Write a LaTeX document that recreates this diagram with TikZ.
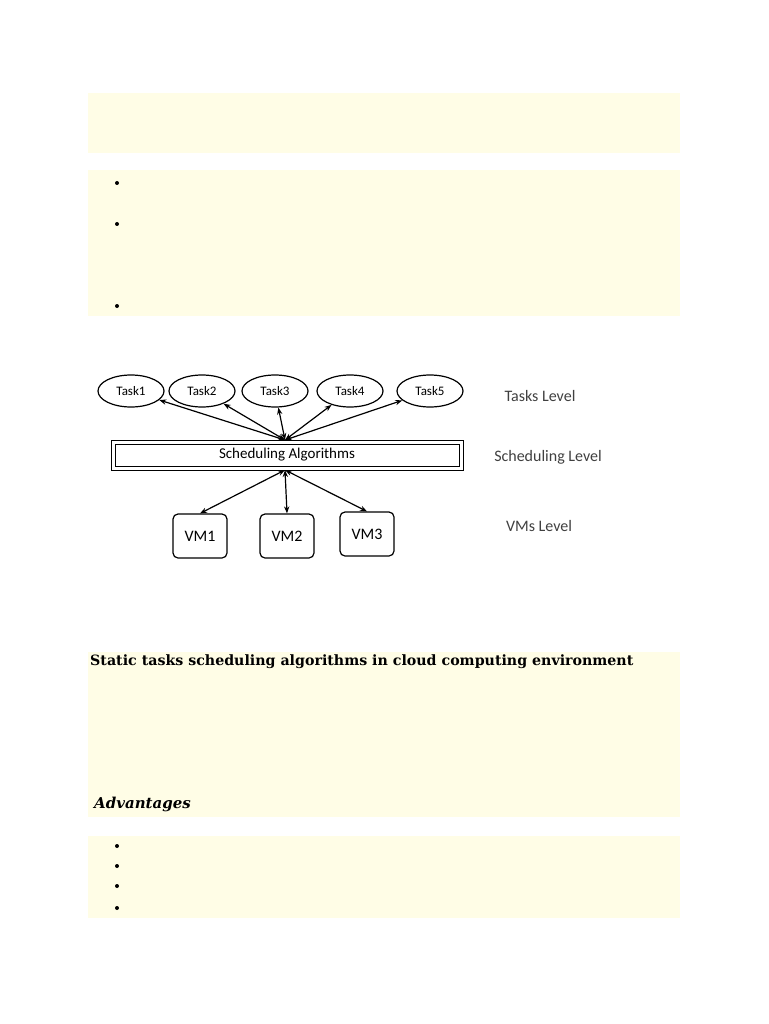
\documentclass[tikz,border=0pt]{standalone}
\usepackage{fontspec}
\setmainfont{DejaVu Serif}
\newfontfamily\calib{Carlito}
\usetikzlibrary{shapes.geometric,arrows.meta}
\definecolor{cream}{HTML}{FFFDE6}
\begin{document}
\begin{tikzpicture}[x=1pt,y=-1pt,
  panel/.style={fill=cream,draw=none},
  bul/.style={circle,fill=black,inner sep=0pt,minimum size=4pt},
  task/.style={ellipse,draw,line width=1.2pt,minimum width=66pt,minimum height=32pt,inner sep=0pt,font=\calib\fontsize{13}{14}\selectfont},
  vm/.style={draw,line width=1.2pt,rounded corners=5pt,minimum width=54pt,minimum height=44pt,font=\calib\fontsize{16}{18}\selectfont},
  lvl/.style={anchor=center,font=\calib\fontsize{16}{18}\selectfont,text=black!75},
  con/.style={line width=1.2pt,{Stealth[length=7pt]}-{Stealth[length=7pt]}}]
\useasboundingbox (0,0) rectangle (768,1024);
\fill[white] (0,0) rectangle (768,1024);
\fill[panel] (88,93) rectangle (680,153);
\fill[panel] (88,170) rectangle (680,316);
\fill[panel] (88,652) rectangle (680,817);
\fill[panel] (88,836) rectangle (680,918);
\foreach \y in {183,224,306,846,866,886,908} \node[bul] at (117,\y) {};
\node[anchor=west,inner sep=0pt,font=\bfseries\fontsize{14.2}{17}\selectfont] (title) at (90,662) {Static tasks scheduling algorithms in cloud computing environment};
\node[anchor=west,inner sep=0pt,font=\bfseries\itshape\fontsize{15}{17}\selectfont] (adv) at (94,804) {Advantages};
% diagram
\node[task] (t1) at (131,391) {Task1};
\node[task] (t2) at (202,391) {Task2};
\node[task] (t3) at (275,391) {Task3};
\node[task] (t4) at (350,391) {Task4};
\node[task] (t5) at (430,391) {Task5};
\node[draw,line width=1pt,minimum width=352pt,minimum height=30pt] (sa) at (287,455) {};
\node[draw,line width=1pt,minimum width=344pt,minimum height=22pt,font=\calib\fontsize{15}{16}\selectfont] (sai) at (287,455) {Scheduling Algorithms};
\coordinate (top) at (285,440);
\coordinate (bot) at (285,470);
\node[vm] (v1) at (200,536) {VM1};
\node[vm] (v2) at (287,536) {VM2};
\node[vm] (v3) at (367,534) {VM3};
\foreach \t in {t1,t2,t3,t4,t5} \draw[con] (top) -- (\t);
\draw[con] (bot) -- (v1.north);
\draw[con] (bot) -- (v2.north);
\draw[con] (bot) -- (v3.north);
\node[lvl] (l1) at (540,396) {Tasks Level};
\node[lvl] (l2) at (548,457) {Scheduling Level};
\node[lvl] (l3) at (539,526) {VMs Level};
\end{tikzpicture}
\end{document}
